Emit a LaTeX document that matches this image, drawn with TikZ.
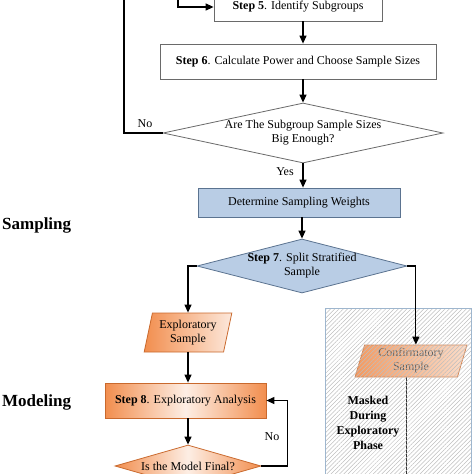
\documentclass[tikz,border=0pt]{standalone}
\usepackage{fontspec}
\setmainfont{Liberation Serif}
\usetikzlibrary{arrows.meta,shapes.geometric,patterns.meta,calc}
\definecolor{bluefill}{HTML}{B9CDE5}
\definecolor{blueline}{HTML}{5B7390}
\definecolor{orangefill}{HTML}{F28E4E}
\definecolor{orangeline}{HTML}{C9692D}
\definecolor{boxline}{HTML}{6A6A6A}
\definecolor{maskline}{HTML}{9EB6CE}
\definecolor{hatch}{HTML}{BEBEBE}
\tikzset{
 conn/.style={line width=1.2pt, draw=black},
 arr/.style={conn, -{Triangle[length=8pt,width=7pt]}},
 plainbox/.style={rectangle, draw=boxline, line width=0.8pt, fill=white, minimum height=35pt, inner sep=0pt, font=\fontsize{12}{14}\selectfont},
 bluebox/.style={plainbox, draw=blueline, fill=bluefill},
 orangeshade/.style={left color=orangefill, right color=orangefill, middle color=white!85!orangefill},
 orangebox/.style={plainbox, draw=orangeline, orangeshade},
 dia/.style={diamond, draw=boxline, line width=0.8pt, fill=white, inner sep=0pt},
 para/.style={trapezium, trapezium stretches=true, trapezium left angle=75, trapezium right angle=105, draw=orangeline, line width=0.8pt, inner sep=0pt, align=center, font=\fontsize{12}{14}\selectfont},
 dtext/.style={align=center, font=\fontsize{12}{14}\selectfont, inner sep=0pt},
 lbl/.style={font=\fontsize{12}{14}\selectfont, inner sep=0pt},
 phase/.style={font=\fontsize{17}{20}\selectfont\bfseries, anchor=west, inner sep=0pt},
 masktext/.style={align=center, font=\fontsize{12}{15}\selectfont\bfseries, inner sep=0pt}
}
\begin{document}
\begin{tikzpicture}[x=1pt,y=-1pt]
\useasboundingbox (0,0) rectangle (474,474);
\clip (0,0) rectangle (474,474);
% top part
\node[plainbox, minimum width=168pt, minimum height=28pt] (s5) at (298,7) {\textbf{Step 5}. Identify Subgroups};
\node[plainbox, minimum width=276pt] (s6) at (298,61.5) {\textbf{Step 6}. Calculate Power and Choose Sample Sizes};
\node[dia, minimum width=280pt, minimum height=60pt] (d1) at (303,133) {};
\node[dtext] (d1t) at (d1.center) {Are The Subgroup Sample Sizes\\Big Enough?};
\node[bluebox, minimum width=202pt, minimum height=29pt] (bw) at (299,202.5) {Determine Sampling Weights};
\node[dia, draw=blueline, fill=bluefill, minimum width=210pt, minimum height=54pt] (d2) at (302,266) {};
\node[dtext] (d2t) at (d2.center) {\textbf{Step 7}. Split Stratified\\Sample};
\coordinate (fbtop) at (124,-5);
\coordinate (in5) at (178,-5);
\draw[conn] (d1.west) -| (fbtop);
\draw[arr] (in5) |- (s5.west);
\draw[arr] (s5.south -| d1.north) -- (s6.north -| d1.north);
\draw[arr] (s6.south -| d1.north) -- (d1.north);
\draw[arr] (d1.south) -- (d1.south |- bw.north);
\draw[arr] (bw.south -| d2.north) -- (d2.north);
\node[lbl] (no1) at (145,124) {No};
\node[lbl] (yes) at (285,172) {Yes};
% phases
\node[phase] (samp) at (2,225) {Sampling};
\node[phase] (model) at (2,402) {Modeling};
% exploratory branch
\node[para, left color=orangefill, right color=white!80!orangefill, minimum width=88pt, minimum height=39pt] (ex) at (188,332.5) {Exploratory\\Sample};
\node[orangebox, minimum width=161pt] (s8) at (185.5,400.5) {\textbf{Step 8}. Exploratory Analysis};
\node[dia, draw=orangeline, orangeshade, minimum width=146pt, minimum height=42pt] (d3) at (188,466) {};
\node[dtext] (d3t) at (d3.center) {Is the Model Final?};
\draw[arr] (d2.west) -| (ex.north);
\draw[arr] (ex.south) -- (ex.south |- s8.north);
\draw[arr] (d3.north |- s8.south) -- (d3.north);
\draw[arr] (d3.east) -| ($(s8.east)+(21,0)$) -- (s8.east);
\node[lbl] (no2) at (272,437) {No};
% confirmatory branch (masked)
\node[para, draw=orangeline!80, left color=orangefill!90, right color=white!70!orangefill, text=black!62, minimum width=112pt, minimum height=32pt] (cs) at (411,361) {Confirmatory\\Sample};
\coordinate (csend) at (410,480);
\draw[line width=0.8pt, black!80] (cs.bottom side) -- (cs.bottom side |- csend);
\node[rectangle, draw=maskline, line width=0.8pt, pattern={Lines[angle=45,distance=3pt,line width=0.5pt]}, pattern color=hatch, minimum width=146pt, minimum height=175pt, inner sep=0pt] (maskbox) at (398,395.5) {};
\draw[arr] (d2.east) -| (cs.top side);
\node[masktext] (mask) at (368,422.5) {Masked\\During\\Exploratory\\Phase};
\end{tikzpicture}
\end{document}
